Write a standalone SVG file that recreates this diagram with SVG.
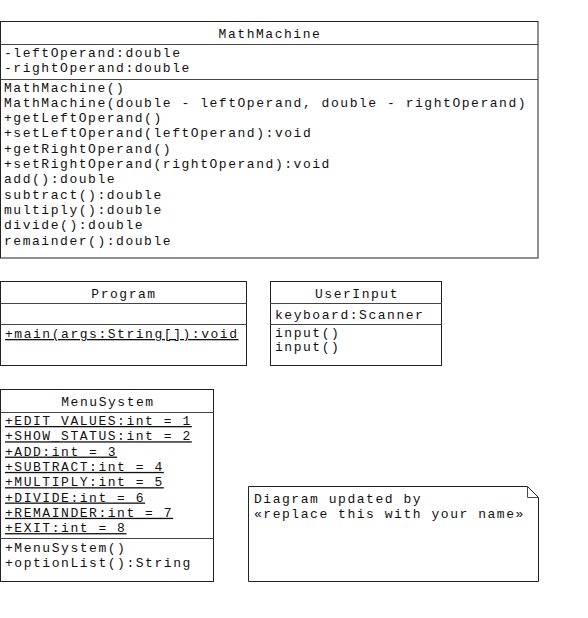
<svg xmlns="http://www.w3.org/2000/svg" width="588" height="618" viewBox="0 0 588 618">
<style>
.box{fill:#fff;stroke:#222;stroke-width:1}
.sep{stroke:#444;stroke-width:1;fill:none}
text{font-family:"Liberation Mono","DejaVu Sans Mono",monospace;font-size:13px;letter-spacing:1.54px;fill:#111}
.t{text-anchor:middle}
.u{text-decoration:underline}
</style>
<rect width="588" height="618" fill="#fff"/>
<g id="MathMachine">
<rect class="box" x="0.5" y="21.5" width="537.5" height="236.5"/>
<line class="sep" x1="0.5" y1="44.5" x2="538" y2="44.5"/>
<line class="sep" x1="0.5" y1="79.5" x2="538" y2="79.5"/>
<text class="t" x="270" y="38">MathMachine</text>
<text x="4" y="57">-leftOperand:double</text>
<text x="4" y="72.3">-rightOperand:double</text>
<text x="4" y="91.5">MathMachine()</text>
<text x="4" y="106.8">MathMachine(double - leftOperand, double - rightOperand)</text>
<text x="4" y="122.1">+getLeftOperand()</text>
<text x="4" y="137.4">+setLeftOperand(leftOperand):void</text>
<text x="4" y="152.7">+getRightOperand()</text>
<text x="4" y="168">+setRightOperand(rightOperand):void</text>
<text x="4" y="183.3">add():double</text>
<text x="4" y="198.6">subtract():double</text>
<text x="4" y="213.9">multiply():double</text>
<text x="4" y="229.2">divide():double</text>
<text x="4" y="244.5">remainder():double</text>
</g>
<g id="Program">
<rect class="box" x="0.5" y="281.5" width="246" height="84"/>
<line class="sep" x1="0.5" y1="303.5" x2="246.5" y2="303.5"/>
<line class="sep" x1="0.5" y1="324.5" x2="246.5" y2="324.5"/>
<text class="t" x="124" y="297.5">Program</text>
<text class="u" x="5" y="338">+main(args:String[]):void</text>
</g>
<g id="UserInput">
<rect class="box" x="270.5" y="281.5" width="171" height="84"/>
<line class="sep" x1="270.5" y1="303.5" x2="441.5" y2="303.5"/>
<line class="sep" x1="270.5" y1="324.5" x2="441.5" y2="324.5"/>
<text class="t" x="357" y="297.5">UserInput</text>
<text x="275" y="318.5">keyboard:Scanner</text>
<text x="275" y="337">input()</text>
<text x="275" y="351">input()</text>
</g>
<g id="MenuSystem">
<rect class="box" x="0.5" y="389.5" width="213" height="192"/>
<line class="sep" x1="0.5" y1="412.5" x2="213.5" y2="412.5"/>
<line class="sep" x1="0.5" y1="538.5" x2="213.5" y2="538.5"/>
<text class="t" x="108" y="406">MenuSystem</text>
<text class="u" x="5" y="425">+EDIT_VALUES:int = 1</text>
<text class="u" x="5" y="440.3">+SHOW_STATUS:int = 2</text>
<text class="u" x="5" y="455.6">+ADD:int = 3</text>
<text class="u" x="5" y="470.9">+SUBTRACT:int = 4</text>
<text class="u" x="5" y="486.2">+MULTIPLY:int = 5</text>
<text class="u" x="5" y="501.5">+DIVIDE:int = 6</text>
<text class="u" x="5" y="516.8">+REMAINDER:int = 7</text>
<text class="u" x="5" y="532.1">+EXIT:int = 8</text>
<text x="5" y="552">+MenuSystem()</text>
<text x="5" y="567.3">+optionList():String</text>
</g>
<g id="Note">
<path class="box" d="M248.5,486.5 H527.5 L538.5,497.5 V581.5 H248.5 Z"/>
<path class="sep" d="M527.5,486.5 V497.5 H538.5"/>
<text x="254" y="503">Diagram updated by</text>
<text x="254" y="518.3">«replace this with your name»</text>
</g>
<g id="connectors"/>
</svg>
